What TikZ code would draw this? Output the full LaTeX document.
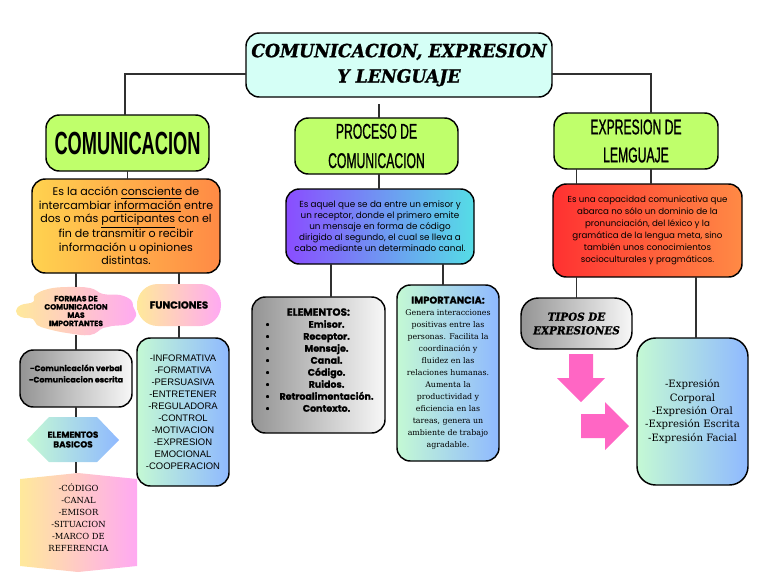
\documentclass[tikz,border=0pt]{standalone}
\usepackage{fontspec}
\setmainfont{DejaVu Serif}
\newfontfamily\titlefont[FakeStretch=0.95,BoldItalicFeatures={FakeBold=1.2}]{DejaVu Serif}
\newfontfamily\headfont[FakeStretch=0.57]{Liberation Sans}
\newfontfamily\headthin[FakeStretch=0.57,FakeBold=0.9]{Liberation Sans}
\newfontfamily\bodyfont[BoldFeatures={FakeBold=1.0}]{Poppins}
\newfontfamily\armfont{Liberation Sans}
\newfontfamily\serfont{DejaVu Serif}
\usepackage{tikz}
\usetikzlibrary{calc}
\definecolor{limebox}{HTML}{BFFF6B}
\definecolor{mintbox}{HTML}{D5FFF6}
\definecolor{greenside}{HTML}{C4F9D4}
\definecolor{blueside}{HTML}{8FB9FF}
\definecolor{yellowside}{HTML}{FFE99B}
\definecolor{pinkside}{HTML}{FFA9F2}
\definecolor{pinkarrow}{HTML}{FF66C4}
\definecolor{connect}{HTML}{303030}
\definecolor{amberside}{HTML}{FFD24F}
\definecolor{orangeside}{HTML}{FF8A45}
\definecolor{purpleside}{HTML}{8A4DFF}
\definecolor{cyanside}{HTML}{55DDE6}
\definecolor{redside}{HTML}{FF3131}
\def\px{0.75pt}
\newcommand{\bulitem}[1]{\makebox[80pt][l]{\textbullet\makebox[85pt]{#1}}}

\begin{document}
\begin{tikzpicture}[x=0.75pt,y=-0.75pt]

\tikzstyle{roundbox}=[draw=black,line width=1.1pt,rounded corners=10pt,align=center,inner sep=0pt,outer sep=0pt]
\tikzstyle{limenode}=[roundbox,fill=limebox,minimum width=163*\px,minimum height=56*\px]
\tikzstyle{coolnode}=[roundbox,left color=greenside,right color=blueside]
\tikzstyle{graynode}=[roundbox,left color=black!42,right color=black!3]
\tikzstyle{connline}=[draw=connect,line width=1.1pt]
\tikzstyle{warmshade}=[left color=yellowside,right color=pinkside]
\tikzstyle{plainlabel}=[align=center,inner sep=0pt,outer sep=0pt]

\useasboundingbox (0,0) rectangle (768,576);

% CONNECTORS JOINTS
\coordinate (jleft) at (125,74);
\coordinate (jright) at (651,74);
\coordinate (jmid) at (379,104);
\coordinate (jele) at (331,280);
\coordinate (jimp) at (443,280);
\coordinate (jlist) at (696,300);

% TITLE
\node (title) [roundbox,fill=mintbox,minimum width=306*\px,minimum height=64*\px,font=\titlefont\bfseries\itshape\fontsize{13.6}{19}\selectfont] at (399,65) {COMUNICACION, EXPRESION\\Y LENGUAJE};

% MAIN HEADERS
\node (com) [limenode,font=\headfont\bfseries\fontsize{24}{24}\selectfont] at (127.5,143) {COMUNICACION};
\node (pro) [limenode,font=\headthin\fontsize{16}{22}\selectfont] at (376.5,146) {PROCESO DE\\COMUNICACION};
\node (exp) [limenode,minimum width=164*\px,font=\headthin\fontsize{16}{21}\selectfont] at (636,141) {EXPRESION DE\\LEMGUAJE};

% DEFINITIONS
\node (defcom) [roundbox,left color=amberside,right color=orangeside,minimum width=188*\px,minimum height=94*\px,font=\bodyfont\fontsize{8.3}{10.05}\selectfont] at (126,226) {Es la acción \underline{consciente} de\\intercambiar \underline{información} entre\\dos o más \underline{participantes} con el\\fin de transmitir o recibir\\información u opiniones\\distintas.};
\node (defpro) [roundbox,left color=purpleside,right color=cyanside,minimum width=188*\px,minimum height=75*\px,font=\bodyfont\fontsize{6.6}{8.2}\selectfont] at (380,226.5) {Es aquel que se da entre un emisor y\\un receptor, donde el primero emite\\un mensaje en forma de código\\dirigido al segundo, el cual se lleva a\\cabo mediante un determinado canal.};
\node (defexp) [roundbox,left color=redside,right color=orangeside,minimum width=189*\px,minimum height=93*\px,font=\bodyfont\fontsize{6.5}{9}\selectfont] at (647.5,230.5) {Es una capacidad comunicativa que\\abarca no sólo un dominio de la\\pronunciación, del léxico y la\\gramática de la lengua meta, sino\\también unos conocimientos\\socioculturales y pragmáticos.};

% CLOUD
\shade [warmshade] plot [smooth cycle,tension=0.7] coordinates {(16,311) (21,305) (33,302) (35,295) (48,289) (67,287) (90,288) (103,294) (120,295) (131,300) (133,306) (136,316) (128,324) (112,326) (103,328) (90,335) (67,333) (48,329) (37,325) (33,319) (21,317)};
\node (cloud) [plainlabel,minimum width=120*\px,minimum height=48*\px,font=\bodyfont\bfseries\fontsize{5.7}{6.2}\selectfont] at (76,311) {FORMAS DE\\COMUNICACION\\MAS\\IMPORTANTES};

% FUNCIONES
\node (fun) [rounded corners=15.5pt,warmshade,minimum width=84*\px,minimum height=42*\px,inner sep=0pt,outer sep=0pt,font=\bodyfont\bfseries\fontsize{7.6}{8}\selectfont] at (179,305) {FUNCIONES};
\node (funlist) [coolnode,minimum width=92*\px,minimum height=148*\px,font=\armfont\fontsize{7.1}{9}\selectfont] at (183,412) {-INFORMATIVA\\-FORMATIVA\\-PERSUASIVA\\-ENTRETENER\\-REGULADORA\\-CONTROL\\-MOTIVACION\\-EXPRESION\\EMOCIONAL\\-COOPERACION};

% FORMAS
\node (verbal) [graynode,minimum width=112*\px,minimum height=57*\px,font=\bodyfont\bfseries\fontsize{5.9}{8.5}\selectfont] at (76,378.5) {-Comunicación verbal\\-Comunicacion escrita\\[-1pt]\mbox{}};

% HEXAGON
\shade [left color=greenside,right color=blueside] (27,440) -- (49,417) -- (97,417) -- (119,440) -- (97,462) -- (49,462) -- cycle;
\node (hexa) [plainlabel,minimum width=92*\px,minimum height=45*\px,font=\bodyfont\bfseries\fontsize{6.6}{7.3}\selectfont] at (73,439.5) {ELEMENTOS\\BASICOS};

% BANNER
\shade [warmshade] (20,479) -- (78,473) -- (137,479) -- (137,566) -- (78,572) -- (20,566) -- cycle;
\node (banner) [plainlabel,minimum width=117*\px,minimum height=99*\px,font=\serfont\fontsize{6.3}{9}\selectfont] at (78.5,522.5) {-CÓDIGO\\-CANAL\\-EMISOR\\-SITUACION\\-MARCO DE\\REFERENCIA\\[-1pt]\mbox{}};

% ELEMENTOS
\node (ele) [graynode,minimum width=133*\px,minimum height=136*\px,font=\bodyfont\bfseries\fontsize{7.1}{9}\selectfont] at (318.5,365) {{\fontsize{7.8}{9}\selectfont ELEMENTOS:}\\\bulitem{Emisor.}\\\bulitem{Receptor.}\\\bulitem{Mensaje.}\\\bulitem{Canal.}\\\bulitem{Código.}\\\bulitem{Ruidos.}\\\bulitem{Retroalimentación.}\\\bulitem{Contexto.}\\[-1.5pt]\mbox{}};

% IMPORTANCIA
\node (imp) [coolnode,minimum width=102*\px,minimum height=176*\px,font=\serfont\fontsize{5.9}{9}\selectfont] at (448,373) {{\bodyfont\bfseries\fontsize{7.4}{9}\selectfont IMPORTANCIA:}\\Genera interacciones\\positivas entre las\\personas. Facilita la\\coordinación y\\fluidez en las\\relaciones humanas.\\Aumenta la\\productividad y\\eficiencia en las\\tareas, genera un\\ambiente de trabajo\\agradable.};

% TIPOS
\node (tip) [graynode,rounded corners=13pt,minimum width=111*\px,minimum height=51*\px,font=\titlefont\bfseries\itshape\fontsize{8.2}{10.2}\selectfont] at (576.5,323.5) {TIPOS DE\\EXPRESIONES};
\node (tiplist) [coolnode,rounded corners=14pt,minimum width=111*\px,minimum height=147*\px,font=\serfont\fontsize{7.6}{10.1}\selectfont] at (692.5,411.5) {-Expresión\\Corporal\\-Expresión Oral\\-Expresión Escrita\\-Expresión Facial};

% ARROWS
\fill [pinkarrow] (569,354) -- (593,354) -- (593,378) -- (605,378) -- (581,402) -- (557,378) -- (569,378) -- cycle;
\fill [pinkarrow] (581,414) -- (605,414) -- (605,402) -- (629,426) -- (605,450) -- (605,438) -- (581,438) -- cycle;

% LINES
\draw [connline] (title.west |- jleft) -- (jleft) -- (jleft |- com.north);
\draw [connline] (title.east |- jright) -- (jright) -- (jright |- exp.north);
\draw [connline] (jmid) -- (jmid |- pro.north);
\draw [connline] (com.south) -- (com.south |- defcom.north);
\draw [connline] (jmid |- pro.south) -- (jmid |- defpro.north);
\draw [connline] (tip.north |- exp.south) -- (tip.north |- defexp.north);
\draw [connline] (jright |- exp.south) -- (jright |- defexp.north);
\draw [connline] (cloud.north |- defcom.south) -- (cloud.north);
\draw [connline] (fun.north |- defcom.south) -- (fun.north);
\draw [connline] (cloud.south) -- (verbal.north);
\draw [connline] (fun.south) -- (fun.south |- funlist.north);
\draw [connline] (verbal.south) -- (verbal.south |- hexa.north);
\draw [connline] (hexa.south -| verbal.south) -- (banner.north -| verbal.south);
\draw [connline] (jele |- defpro.south) -- (jele |- ele.north);
\draw [connline] (jimp |- defpro.south) -- (jimp |- imp.north);
\draw [connline] (tip.north) -- (tip.north |- defexp.south);
\draw [connline] (jlist |- defexp.south) -- (jlist |- tiplist.north);

\end{tikzpicture}
\end{document}
